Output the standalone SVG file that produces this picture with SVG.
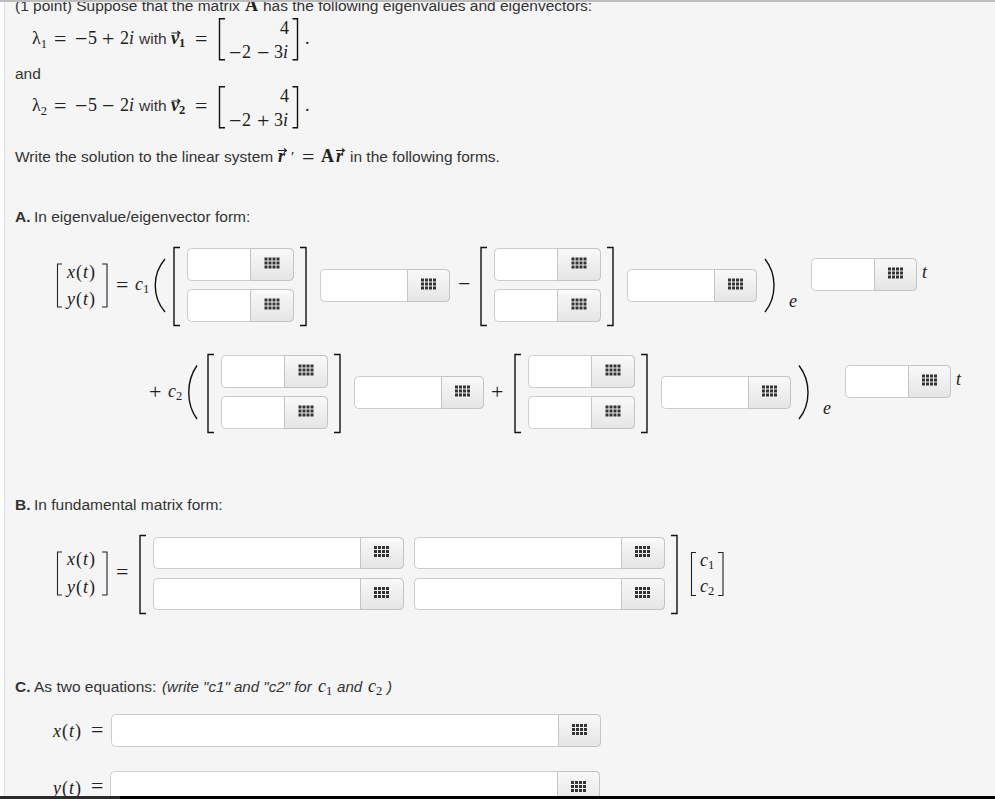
<svg xmlns="http://www.w3.org/2000/svg" width="995" height="799" viewBox="0 0 995 799">
<style>
.t{font-family:"Liberation Sans",Arial,sans-serif;font-size:15.5px;fill:#333}
.b{font-weight:bold}
.em{font-style:italic;font-size:15.1px}
.m{font-family:"Liberation Serif","Times New Roman",serif;font-size:18px;fill:#222}
.fn{letter-spacing:1px}
.o{font-size:22px}
.mi{font-style:italic}
.mb{font-weight:bold}
.s{font-size:12.5px}
.f{fill:#fff;stroke:#ccc;stroke-width:1}
.btn{fill:url(#bg);stroke:#c4c4c4;stroke-width:1}
.br{fill:none;stroke:#111;stroke-width:1.4}
.brs{fill:none;stroke:#222;stroke-width:1.1}
.ar{fill:none;stroke:#222;stroke-width:1.1}
.ic{fill:#333}
</style>
<defs>
<linearGradient id="bg" x1="0" y1="0" x2="0" y2="1"><stop offset="0" stop-color="#f9f9f9"/><stop offset="1" stop-color="#e5e5e5"/></linearGradient>
<g id="grid" class="ic">
<rect x="0" y="0" width="3" height="3"/><rect x="4" y="0" width="3" height="3"/><rect x="8" y="0" width="3" height="3"/><rect x="12" y="0" width="3" height="3"/>
<rect x="0" y="4" width="3" height="3"/><rect x="4" y="4" width="3" height="3"/><rect x="8" y="4" width="3" height="3"/><rect x="12" y="4" width="3" height="3"/>
<rect x="0" y="8" width="3" height="3"/><rect x="4" y="8" width="3" height="3"/><rect x="8" y="8" width="3" height="3"/><rect x="12" y="8" width="3" height="3"/>
</g>
</defs>
<rect width="995" height="799" fill="#f5f5f5"/>
<rect x="0" y="0" width="4" height="799" fill="#fff"/>
<rect x="4" y="0" width="1" height="799" fill="#ddd"/>

<g id="statement">
<text class="t" x="15" y="11">(1 point) Suppose that the matrix</text>
<text class="m mb" x="245" y="11">A</text>
<text class="t" x="263" y="11">has the following eigenvalues and eigenvectors:</text>
<text class="m" x="32" y="44">λ<tspan class="s" dy="4">1</tspan></text>
<text class="m o" x="54" y="46">=</text>
<text class="m o" x="75" y="46">−</text>
<text class="m" x="88" y="44">5</text>
<text class="m o" x="102" y="46">+</text>
<text class="m" x="120" y="44">2<tspan class="mi">i</tspan></text>
<text class="t" x="139" y="44">with</text>
<text class="m mi mb" x="171" y="44">v<tspan class="s" dy="3" font-style="normal">1</tspan></text>
<path class="ar" d="M171.500 33h8M177.500 31l2.500 2-2.500 2"/>
<text class="m o" x="195" y="46">=</text>
<path class="br" d="M225 18.700h-5.500v41h5.500M292.500 18.700h5v41h-5"/>
<text class="m" x="289" y="34" text-anchor="end">4</text>
<text class="m o" x="229" y="60">−</text>
<text class="m" x="242" y="58">2</text>
<text class="m o" x="257" y="60">−</text>
<text class="m" x="274" y="58">3<tspan class="mi">i</tspan></text>
<text class="m" x="305" y="44">.</text>
<text class="t" x="15" y="79">and</text>
<text class="m" x="32" y="111">λ<tspan class="s" dy="4">2</tspan></text>
<text class="m o" x="54" y="113">=</text>
<text class="m o" x="75" y="113">−</text>
<text class="m" x="88" y="111">5</text>
<text class="m o" x="102" y="113">−</text>
<text class="m" x="120" y="111">2<tspan class="mi">i</tspan></text>
<text class="t" x="139" y="111">with</text>
<text class="m mi mb" x="171" y="111">v<tspan class="s" dy="3" font-style="normal">2</tspan></text>
<path class="ar" d="M171.500 101h8M177.500 99l2.500 2-2.500 2"/>
<text class="m o" x="195" y="113">=</text>
<path class="br" d="M225 86.700h-5.500v41h5.500M292.500 86.700h5v41h-5"/>
<text class="m" x="289" y="102" text-anchor="end">4</text>
<text class="m o" x="229" y="128">−</text>
<text class="m" x="242" y="126">2</text>
<text class="m o" x="257" y="128">+</text>
<text class="m" x="274" y="126">3<tspan class="mi">i</tspan></text>
<text class="m" x="305" y="111">.</text>
<text class="t" x="15" y="162">Write the solution to the linear system</text>
<text class="m mi mb" x="278" y="162">r</text>
<path class="ar" d="M278 150.500h8M284 148.500l2.500 2-2.500 2"/>
<text class="m" x="291" y="162" style="font-size:15px">′</text>
<text class="m o" x="302" y="164">=</text>
<text class="m mb" x="321" y="162">A</text>
<text class="m mi mb" x="336" y="162">r</text>
<path class="ar" d="M336 150.500h8M342 148.500l2.500 2-2.500 2"/>
<text class="t" x="350" y="162">in the following forms.</text>
</g>

<g id="part-a">
<text class="t" x="15" y="222"><tspan class="b">A.</tspan><tspan x="34">In eigenvalue/eigenvector form:</tspan></text>
<path class="brs" d="M62 264h-4.500v43h4.500M102 264h5v43h-5"/>
<text class="m mi fn" x="67" y="278">x<tspan font-style="normal">(</tspan>t<tspan font-style="normal">)</tspan></text>
<text class="m mi fn" x="67" y="305">y<tspan font-style="normal">(</tspan>t<tspan font-style="normal">)</tspan></text>
<text class="m o" x="116" y="291.500">=</text>
<text class="m mi" x="135" y="290">c<tspan class="s" dy="3" font-style="normal">1</tspan></text>
<path class="br" d="M165 259C152 274 152 297 165 312" stroke-width="1.200"/>
<path class="br" d="M180 247.500h-6v78h6M300 247.500h6v78h-6"/>
<text class="m o" x="458" y="291">−</text>
<path class="br" d="M487 247.500h-6v78h6M607 247.500h6v78h-6"/>
<path class="br" d="M765 259C777 274 777 297 765 312" stroke-width="1.200"/>
<text class="m mi" x="789" y="307">e</text>
<text class="m mi" x="922" y="278">t</text>
<text class="m o" x="149" y="398.700">+</text>
<text class="m mi" x="168" y="397">c<tspan class="s" dy="3" font-style="normal">2</tspan></text>
<path class="br" d="M197 365.500C186 381 186 404 197 419" stroke-width="1.200"/>
<path class="br" d="M214 354.500h-6v78h6M334 354.500h6v78h-6"/>
<text class="m o" x="491" y="398.700">+</text>
<path class="br" d="M521 354.500h-6v78h6M641 354.500h6v78h-6"/>
<path class="br" d="M799 365.500C811 381 811 404 799 419" stroke-width="1.200"/>
<text class="m mi" x="823" y="414">e</text>
<text class="m mi" x="956" y="385">t</text>
</g>

<g id="part-a-inputs">
<g id="a1"><rect class="f" x="187.500" y="248.500" width="106" height="32" rx="4"/><path class="btn" d="M250.500 248.500h39a4 4 0 0 1 4 4v24a4 4 0 0 1-4 4h-39z"/><use href="#grid" x="264.500" y="257.500"/></g>
<g id="a2"><rect class="f" x="187.500" y="289.500" width="106" height="32" rx="4"/><path class="btn" d="M250.500 289.500h39a4 4 0 0 1 4 4v24a4 4 0 0 1-4 4h-39z"/><use href="#grid" x="264.500" y="298.500"/></g>
<g id="a3"><rect class="f" x="320.500" y="269.500" width="129" height="32" rx="4"/><path class="btn" d="M407.500 269.500h38a4 4 0 0 1 4 4v24a4 4 0 0 1-4 4h-38z"/><use href="#grid" x="421" y="278.500"/></g>
<g id="a4"><rect class="f" x="494.500" y="248.500" width="106" height="32" rx="4"/><path class="btn" d="M557.500 248.500h39a4 4 0 0 1 4 4v24a4 4 0 0 1-4 4h-39z"/><use href="#grid" x="571.500" y="257.500"/></g>
<g id="a5"><rect class="f" x="494.500" y="289.500" width="106" height="32" rx="4"/><path class="btn" d="M557.500 289.500h39a4 4 0 0 1 4 4v24a4 4 0 0 1-4 4h-39z"/><use href="#grid" x="571.500" y="298.500"/></g>
<g id="a6"><rect class="f" x="627.500" y="269.500" width="129" height="32" rx="4"/><path class="btn" d="M714.500 269.500h38a4 4 0 0 1 4 4v24a4 4 0 0 1-4 4h-38z"/><use href="#grid" x="728" y="278.500"/></g>
<g id="a7"><rect class="f" x="811.500" y="258.500" width="105" height="32" rx="4"/><path class="btn" d="M874.500 258.500h38a4 4 0 0 1 4 4v24a4 4 0 0 1-4 4h-38z"/><use href="#grid" x="888" y="267.500"/></g>
<g id="a8"><rect class="f" x="221.500" y="355.500" width="106" height="32" rx="4"/><path class="btn" d="M284.500 355.500h39a4 4 0 0 1 4 4v24a4 4 0 0 1-4 4h-39z"/><use href="#grid" x="298.500" y="364.500"/></g>
<g id="a9"><rect class="f" x="221.500" y="396.500" width="106" height="32" rx="4"/><path class="btn" d="M284.500 396.500h39a4 4 0 0 1 4 4v24a4 4 0 0 1-4 4h-39z"/><use href="#grid" x="298.500" y="405.500"/></g>
<g id="a10"><rect class="f" x="354.500" y="376.500" width="129" height="32" rx="4"/><path class="btn" d="M441.500 376.500h38a4 4 0 0 1 4 4v24a4 4 0 0 1-4 4h-38z"/><use href="#grid" x="455" y="385.500"/></g>
<g id="a11"><rect class="f" x="528.500" y="355.500" width="106" height="32" rx="4"/><path class="btn" d="M591.500 355.500h39a4 4 0 0 1 4 4v24a4 4 0 0 1-4 4h-39z"/><use href="#grid" x="605.500" y="364.500"/></g>
<g id="a12"><rect class="f" x="528.500" y="396.500" width="106" height="32" rx="4"/><path class="btn" d="M591.500 396.500h39a4 4 0 0 1 4 4v24a4 4 0 0 1-4 4h-39z"/><use href="#grid" x="605.500" y="405.500"/></g>
<g id="a13"><rect class="f" x="661.500" y="376.500" width="129" height="32" rx="4"/><path class="btn" d="M748.500 376.500h38a4 4 0 0 1 4 4v24a4 4 0 0 1-4 4h-38z"/><use href="#grid" x="762" y="385.500"/></g>
<g id="a14"><rect class="f" x="845.500" y="365.500" width="105" height="32" rx="4"/><path class="btn" d="M908.500 365.500h38a4 4 0 0 1 4 4v24a4 4 0 0 1-4 4h-38z"/><use href="#grid" x="922" y="374.500"/></g>
</g>

<g id="part-b">
<text class="t" x="15" y="510"><tspan class="b">B.</tspan><tspan x="34">In fundamental matrix form:</tspan></text>
<path class="brs" d="M62 552h-4.500v43h4.500M102 552h5v43h-5"/>
<text class="m mi fn" x="67" y="565">x<tspan font-style="normal">(</tspan>t<tspan font-style="normal">)</tspan></text>
<text class="m mi fn" x="67" y="593">y<tspan font-style="normal">(</tspan>t<tspan font-style="normal">)</tspan></text>
<text class="m o" x="116" y="579">=</text>
<path class="br" d="M146 535.500h-6v78h6M671 535.500h6v78h-6"/>
<path class="brs" d="M696 552.500h-4.500v43h4.500M718 552.500h5v43h-5"/>
<text class="m mi" x="700" y="566">c<tspan class="s" dy="3" font-style="normal">1</tspan></text>
<text class="m mi" x="700" y="592">c<tspan class="s" dy="3" font-style="normal">2</tspan></text>
<g id="b1"><rect class="f" x="153.500" y="537.500" width="250" height="31" rx="4"/><path class="btn" d="M360.500 537.500h39a4 4 0 0 1 4 4v23a4 4 0 0 1-4 4h-39z"/><use href="#grid" x="374" y="546"/></g>
<g id="b2"><rect class="f" x="153.500" y="578.500" width="250" height="31" rx="4"/><path class="btn" d="M360.500 578.500h39a4 4 0 0 1 4 4v23a4 4 0 0 1-4 4h-39z"/><use href="#grid" x="374" y="587"/></g>
<g id="b3"><rect class="f" x="414.500" y="537.500" width="250" height="31" rx="4"/><path class="btn" d="M621.500 537.500h39a4 4 0 0 1 4 4v23a4 4 0 0 1-4 4h-39z"/><use href="#grid" x="635" y="546"/></g>
<g id="b4"><rect class="f" x="414.500" y="578.500" width="250" height="31" rx="4"/><path class="btn" d="M621.500 578.500h39a4 4 0 0 1 4 4v23a4 4 0 0 1-4 4h-39z"/><use href="#grid" x="635" y="587"/></g>
</g>

<g id="part-c">
<text class="t" x="15" y="692"><tspan class="b">C.</tspan><tspan x="34">As two equations:</tspan></text>
<text class="t em" x="162" y="692">(write "c1" and "c2" for</text>
<text class="m mi" x="318" y="692">c<tspan class="s" dy="3" font-style="normal">1</tspan></text>
<text class="t em" x="337" y="692">and</text>
<text class="m mi" x="368" y="692">c<tspan class="s" dy="3" font-style="normal">2</tspan></text>
<text class="t em" x="387" y="692">)</text>
<text class="m mi fn" x="53" y="737">x<tspan font-style="normal">(</tspan>t<tspan font-style="normal">)</tspan></text>
<text class="m o" x="91" y="737">=</text>
<text class="m mi fn" x="53" y="794">y<tspan font-style="normal">(</tspan>t<tspan font-style="normal">)</tspan></text>
<text class="m o" x="91" y="793">=</text>
<g id="c1"><rect class="f" x="111.500" y="714.500" width="489" height="32" rx="4"/><path class="btn" d="M558.500 714.500h38a4 4 0 0 1 4 4v24a4 4 0 0 1-4 4h-38z"/><use href="#grid" x="572" y="724"/></g>
<g id="c2"><rect class="f" x="110.500" y="771.500" width="489" height="32" rx="4"/><path class="btn" d="M557.500 771.500h38a4 4 0 0 1 4 4v24a4 4 0 0 1-4 4h-38z"/><use href="#grid" x="571" y="781"/></g>
</g>

<rect x="0" y="0" width="995" height="2" fill="#bdbdbd"/>
<rect x="0" y="796" width="995" height="3" fill="#000"/>
<rect x="0" y="796" width="120" height="3" fill="#2a2a2a"/>
</svg>
